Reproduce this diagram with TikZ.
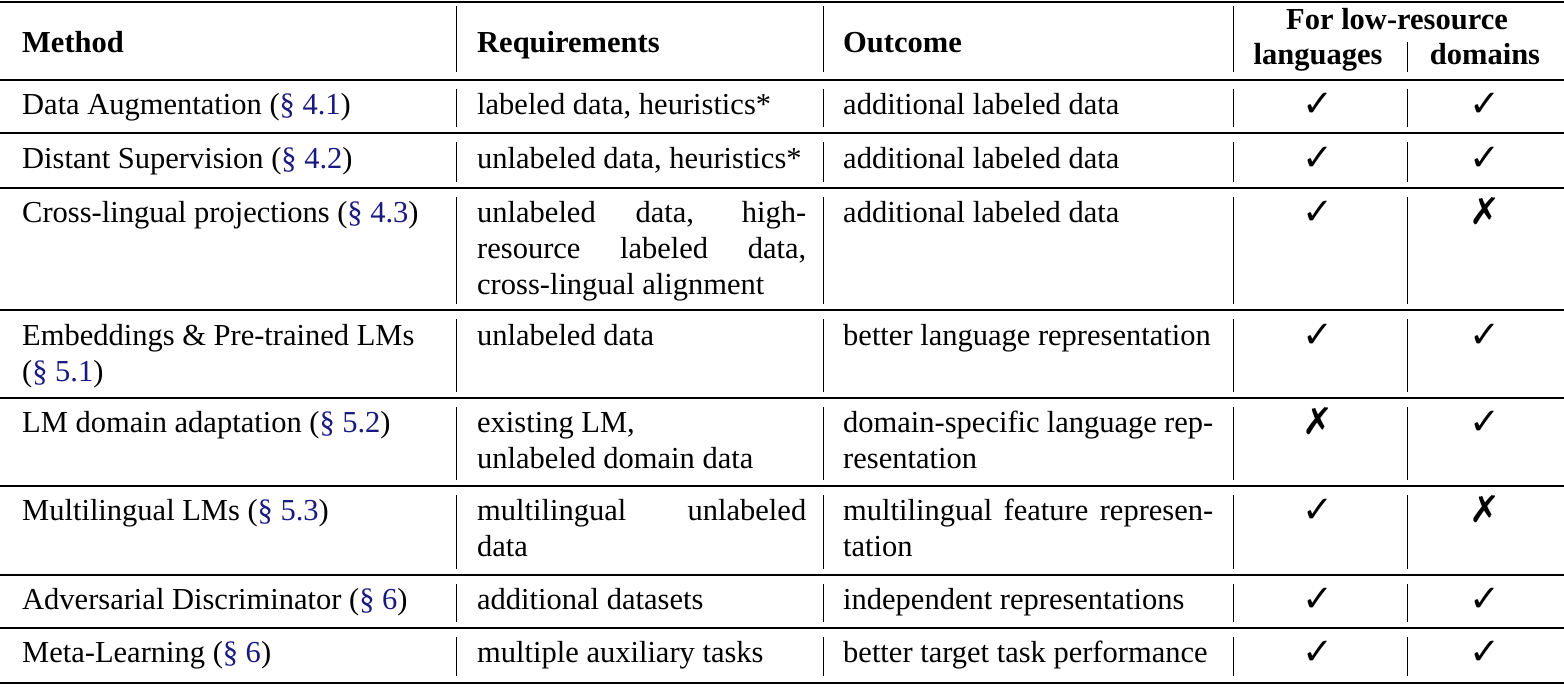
\documentclass[tikz,border=0pt]{standalone}
\usepackage{fontspec}
\setmainfont{Liberation Serif}
\newfontfamily\symf{DejaVu Sans}
\definecolor{lnk}{rgb}{0.1,0.1,0.5}
\newcommand{\sref}[1]{(\textcolor{lnk}{§~#1})}
\newcommand{\yes}{{\symf\bfseries\fontsize{37}{37}\selectfont ✓}}
\newcommand{\no}{{\symf\bfseries\fontsize{37}{37}\selectfont ✗}}
\begin{document}
\begin{tikzpicture}[x=1pt,y=-1pt,
  every node/.style={inner sep=0pt,font=\fontsize{30.5}{35.5}\selectfont},
  cell/.style={anchor=base west},
  ctr/.style={anchor=base},
  rule/.style={line width=1.3pt},
  thick rule/.style={line width=2.6pt},
  bar/.style={line width=0.9pt}]
\useasboundingbox (0,0) rectangle (1564,686);
% rules
\draw[thick rule] (0,2) -- (1564,2);
\foreach \y in {80,133,188,310,398,486,575,628} \draw[rule] (0,\y) -- (1564,\y);
\draw[thick rule] (0,683) -- (1564,683);
% header bars
\foreach \x in {456,823,1233} \draw[bar] (\x,6) -- (\x,72);
\draw[bar] (1407,42) -- (1407,72);
% row bars
\foreach \t/\b in {80/133,133/188,188/310,310/398,398/486,486/575,575/628,628/682}
  \foreach \x in {456,823,1233,1407} \draw[bar] (\x,\t+9) -- (\x,\b-6);
% header
\node[cell] (h1) at (22,52) {\textbf{Method}};
\node[cell] (h2) at (477,52) {\textbf{Requirements}};
\node[cell] (h3) at (843,52) {\textbf{Outcome}};
\node[ctr] (h4) at (1397,29) {\textbf{For low-resource}};
\node[ctr] (h5) at (1318,64) {\textbf{languages}};
\node[ctr] (h6) at (1485,64) {\textbf{domains}};
% row 1
\node[cell] (a1) at (22,114) {Data Augmentation \sref{4.1}};
\node[cell] (b1) at (477,114) {labeled data, heuristics*};
\node[cell] (c1) at (843,114) {additional labeled data};
\node[ctr] (d1) at (1318,116) {\yes};
\node[ctr] (e1) at (1485,116) {\yes};
% row 2
\node[cell] (a2) at (22,168) {Distant Supervision \sref{4.2}};
\node[cell] (b2) at (477,168) {unlabeled data, heuristics*};
\node[cell] (c2) at (843,168) {additional labeled data};
\node[ctr] (d2) at (1318,170) {\yes};
\node[ctr] (e2) at (1485,170) {\yes};
% row 3
\node[cell] (a3) at (22,222) {Cross-lingual projections \sref{4.3}};
\node[cell] (b3a) at (477,222) {\makebox[329pt][s]{unlabeled data, high-}};
\node[cell] (b3b) at (477,258) {\makebox[329pt][s]{resource labeled data,}};
\node[cell] (b3c) at (477,294) {cross-lingual alignment};
\node[cell] (c3) at (843,222) {additional labeled data};
\node[ctr] (d3) at (1318,224) {\yes};
\node[ctr] (e3) at (1485,224) {\no};
% row 4
\node[cell] (a4a) at (22,345) {Embeddings \& Pre-trained LMs};
\node[cell] (a4b) at (22,381) {\sref{5.1}};
\node[cell] (b4) at (477,345) {unlabeled data};
\node[cell] (c4) at (843,345) {better language representation};
\node[ctr] (d4) at (1318,347) {\yes};
\node[ctr] (e4) at (1485,347) {\yes};
% row 5
\node[cell] (a5) at (22,432) {LM domain adaptation \sref{5.2}};
\node[cell] (b5a) at (477,432) {existing LM,};
\node[cell] (b5b) at (477,468) {unlabeled domain data};
\node[cell] (c5a) at (843,432) {\makebox[370pt][s]{domain-specific language rep-}};
\node[cell] (c5b) at (843,468) {resentation};
\node[ctr] (d5) at (1318,434) {\no};
\node[ctr] (e5) at (1485,434) {\yes};
% row 6
\node[cell] (a6) at (22,520) {Multilingual LMs \sref{5.3}};
\node[cell] (b6a) at (477,520) {\makebox[329pt][s]{multilingual unlabeled}};
\node[cell] (b6b) at (477,556) {data};
\node[cell] (c6a) at (843,520) {\makebox[370pt][s]{multilingual feature represen-}};
\node[cell] (c6b) at (843,556) {tation};
\node[ctr] (d6) at (1318,522) {\yes};
\node[ctr] (e6) at (1485,522) {\no};
% row 7
\node[cell] (a7) at (22,609) {Adversarial Discriminator \sref{6}};
\node[cell] (b7) at (477,609) {additional datasets};
\node[cell] (c7) at (843,609) {independent representations};
\node[ctr] (d7) at (1318,611) {\yes};
\node[ctr] (e7) at (1485,611) {\yes};
% row 8
\node[cell] (a8) at (22,662) {Meta-Learning \sref{6}};
\node[cell] (b8) at (477,662) {multiple auxiliary tasks};
\node[cell] (c8) at (843,662) {better target task performance};
\node[ctr] (d8) at (1318,664) {\yes};
\node[ctr] (e8) at (1485,664) {\yes};
\end{tikzpicture}
\end{document}
